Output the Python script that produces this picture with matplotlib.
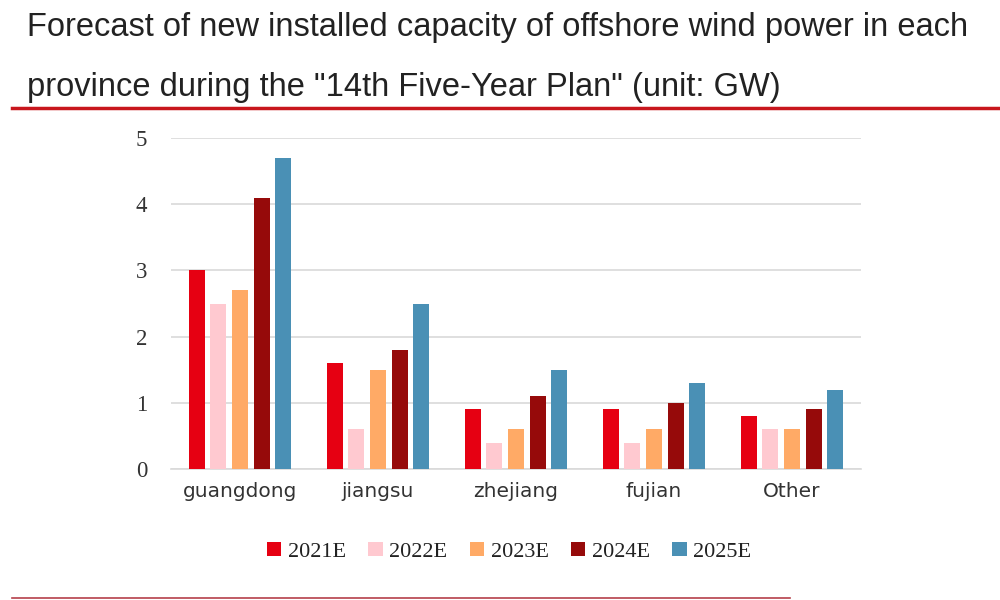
import matplotlib
matplotlib.use("Agg")
import matplotlib.pyplot as plt
import numpy as np
from matplotlib.lines import Line2D

provinces = ["guangdong", "jiangsu", "zhejiang", "fujian", "Other"]
years = ["2021E", "2022E", "2023E", "2024E", "2025E"]
v2021 = [3.0, 1.6, 0.9, 0.9, 0.8]
v2022 = [2.5, 0.6, 0.4, 0.4, 0.6]
v2023 = [2.7, 1.5, 0.6, 0.6, 0.6]
v2024 = [4.1, 1.8, 1.1, 1.0, 0.9]
v2025 = [4.7, 2.5, 1.5, 1.3, 1.2]
series = [v2021, v2022, v2023, v2024, v2025]
colors = ["#E60012", "#FFC9D0", "#FFAA66", "#960A0A", "#4A90B5"]
yticks = [0, 1, 2, 3, 4, 5]

fig = plt.figure(figsize=(10, 6), dpi=100)
ax = fig.add_axes([0.171, 0.2183, 0.69, 0.5517])

x = np.arange(len(provinces))
step = 0.157
width = 0.118
for i, (vals, c, lab) in enumerate(zip(series, colors, years)):
    ax.bar(x + (i - 2) * step, vals, width=width, color=c, label=lab, zorder=3)

ax.set_xlim(-0.5, len(provinces) - 0.5)
ax.set_ylim(0, 5)
ax.set_yticks(yticks)
ax.set_yticklabels([str(t) for t in yticks], fontfamily="Liberation Serif", fontsize=16.5, color="#333333")
ax.set_xticks(x)
ax.set_xticklabels(provinces, fontfamily="DejaVu Sans", fontsize=14.5, color="#333333")
ax.tick_params(axis="both", length=0)
ax.tick_params(axis="y", pad=17)
ax.tick_params(axis="x", pad=9)
ax.grid(axis="y", color="#D9D9D9", linewidth=1.2, zorder=0)
for s in ["top", "right", "left"]:
    ax.spines[s].set_visible(False)
ax.spines["bottom"].set_color("#D9D9D9")
ax.spines["bottom"].set_linewidth(1.2)

leg = ax.legend(loc="center", bbox_to_anchor=(0.49, -0.25), ncol=5, frameon=False,
                handlelength=0.65, handleheight=0.65, handletextpad=0.3, columnspacing=1.0,
                prop={"family": "Liberation Serif", "size": 16})
for t in leg.get_texts():
    t.set_color("#222222")

fig.text(0.027, 0.954, "Forecast of new installed capacity of offshore wind power in each",
         fontfamily="Liberation Sans", fontsize=23.5, color="#222222", va="center", ha="left")
fig.text(0.027, 0.854, "province during the \"14th Five-Year Plan\" (unit: GW)",
         fontfamily="Liberation Sans", fontsize=23.5, color="#222222", va="center", ha="left")

fig.add_artist(Line2D([0.012, 1.0], [1 - 108 / 600, 1 - 108 / 600], transform=fig.transFigure,
                      color="#C8161D", linewidth=2.5))
fig.add_artist(Line2D([0.012, 0.79], [1 - 598 / 600, 1 - 598 / 600], transform=fig.transFigure,
                      color="#B5404A", linewidth=1.2))

fig.savefig("out.png", dpi=100)
